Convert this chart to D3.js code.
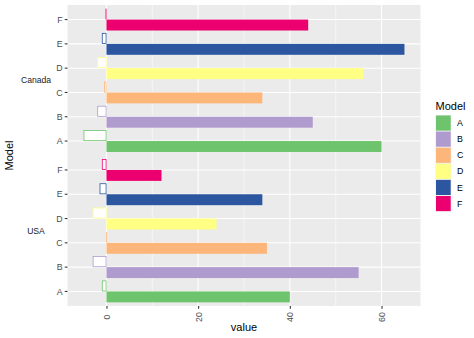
<!DOCTYPE html>
<html><head><meta charset="utf-8">
<script src="https://cdn.jsdelivr.net/npm/d3@7"></script>
<style>body{margin:0;background:#fff}svg{display:block;font-family:"Liberation Sans",Arial,sans-serif}</style>
</head><body><svg id="c" width="474" height="338"></svg>
<script>
const countries = ["USA", "Canada"];
const models = ["A", "B", "C", "D", "E", "F"];
const usaValues = [40, 55, 35, 24, 34, 12];
const canadaValues = [60, 45, 34, 56, 65, 44];
const usaNegative = [-1, -3, -0.1, -3, -1.5, -1];
const canadaNegative = [-5, -2, -0.5, -2, -1, -0.2];
const xTicks = [0, 20, 40, 60];
const colors = ["#6EC46C", "#B09BCE", "#FDB679", "#FFFF84", "#2C56A0", "#EC0070"];

const rows = [];
countries.forEach((c, ci) => {
  const vals = ci === 0 ? usaValues : canadaValues;
  const negs = ci === 0 ? usaNegative : canadaNegative;
  models.forEach((m, mi) => rows.push({country: c, ci, model: m, mi, value: vals[mi], neg: negs[mi]}));
});

const svg = d3.select("#c");
const L = 67.5, R = 420.5, T = 5, B = 306;
const gap = 0.19;
const slot = d => d.ci * (6 + gap) + d.mi;
const x = d3.scaleLinear().domain([-8.5, 68.5]).range([L, R]);
const y = d3.scaleLinear().domain([-0.6, 11 + gap + 0.6]).range([B, T]);
const color = d3.scaleOrdinal().domain(models).range(colors);

svg.append("rect").attr("x", L).attr("y", T).attr("width", R - L).attr("height", B - T).attr("fill", "#EBEBEB");
// minor vertical grid
svg.append("g").selectAll("line").data([10, 30, 50]).join("line")
  .attr("x1", d => x(d)).attr("x2", d => x(d)).attr("y1", T).attr("y2", B)
  .attr("stroke", "#fff").attr("stroke-width", 0.53);
svg.append("g").selectAll("line").data(xTicks).join("line")
  .attr("x1", d => x(d)).attr("x2", d => x(d)).attr("y1", T).attr("y2", B)
  .attr("stroke", "#fff").attr("stroke-width", 1.07);
svg.append("g").selectAll("line").data(rows).join("line")
  .attr("x1", L).attr("x2", R).attr("y1", d => y(slot(d))).attr("y2", d => y(slot(d)))
  .attr("stroke", "#fff").attr("stroke-width", 1.07);

const bw = 0.45;
// filled bars
svg.append("g").selectAll("rect").data(rows).join("rect")
  .attr("x", d => x(Math.min(0, d.value))).attr("width", d => Math.abs(x(d.value) - x(0)))
  .attr("y", d => y(slot(d))).attr("height", d => y(slot(d) - bw) - y(slot(d)))
  .attr("fill", d => color(d.model));
// outline bars
svg.append("g").selectAll("rect").data(rows).join("rect")
  .attr("x", d => x(Math.min(0, d.neg)) + 0.4).attr("width", d => Math.max(0.1, Math.abs(x(d.neg) - x(0)) - 0.8))
  .attr("y", d => y(slot(d) + bw) + 0.4).attr("height", d => y(slot(d)) - y(slot(d) + bw) - 0.8)
  .attr("fill", "#fff").attr("stroke", d => color(d.model)).attr("stroke-width", 0.8);

// y axis
const yg = svg.append("g");
yg.selectAll("line").data(rows).join("line")
  .attr("x1", L - 2.75).attr("x2", L).attr("y1", d => y(slot(d))).attr("y2", d => y(slot(d)))
  .attr("stroke", "#333").attr("stroke-width", 1.07);
yg.selectAll("text").data(rows).join("text")
  .attr("x", L - 5).attr("y", d => y(slot(d))).attr("dy", "0.35em")
  .attr("text-anchor", "end").attr("font-size", 8.8).attr("fill", "#4D4D4D").text(d => d.model);
svg.append("g").selectAll("text").data(countries).join("text")
  .attr("x", 36).attr("y", (c, ci) => (y(ci * (6 + gap)) + y(ci * (6 + gap) + 5)) / 2).attr("dy", "0.35em")
  .attr("text-anchor", "middle").attr("font-size", 8.6).attr("fill", "#222").text(d => d);

// x axis
const xAxis = d3.axisBottom(x).tickValues(xTicks).tickSize(2.75).tickFormat(d3.format("d"));
const xg = svg.append("g").attr("transform", `translate(0,${B})`).call(xAxis);
xg.select(".domain").remove();
xg.selectAll(".tick line").attr("stroke", "#333").attr("stroke-width", 1.07);
xg.selectAll(".tick text").attr("fill", "#4D4D4D").attr("font-size", 8.8)
  .attr("font-family", "Liberation Sans, Arial, sans-serif")
  .attr("y", 0).attr("dy", "0.35em").attr("text-anchor", "middle")
  .attr("transform", "translate(0,11) rotate(-90)");

svg.append("text").attr("x", (L + R) / 2).attr("y", 331).attr("text-anchor", "middle")
  .attr("font-size", 11).attr("fill", "#000").text("value");
svg.append("text").attr("transform", `translate(13,${(T + B) / 2}) rotate(-90)`).attr("text-anchor", "middle")
  .attr("font-size", 11).attr("fill", "#000").text("Model");

// legend
const lg = svg.append("g");
lg.append("text").attr("x", 435.5).attr("y", 109.5).attr("font-size", 11).attr("fill", "#000").text("Model");
const ks = 16.1, k0 = 115;
lg.selectAll("rect.k").data(models).join("rect").attr("class", "k")
  .attr("x", 435.5).attr("y", (d, i) => k0 + i * ks).attr("width", 15.7).attr("height", ks)
  .attr("fill", "#EBEBEB");
lg.selectAll("rect.f").data(models).join("rect").attr("class", "f")
  .attr("x", 436).attr("y", (d, i) => k0 + i * ks + 0.5).attr("width", 14.7).attr("height", ks - 1)
  .attr("fill", d => color(d));
lg.selectAll("text.l").data(models).join("text").attr("class", "l")
  .attr("x", 457).attr("y", (d, i) => k0 + i * ks + ks / 2).attr("dy", "0.35em")
  .attr("font-size", 8.8).attr("fill", "#000").text(d => d);
</script></body></html>
